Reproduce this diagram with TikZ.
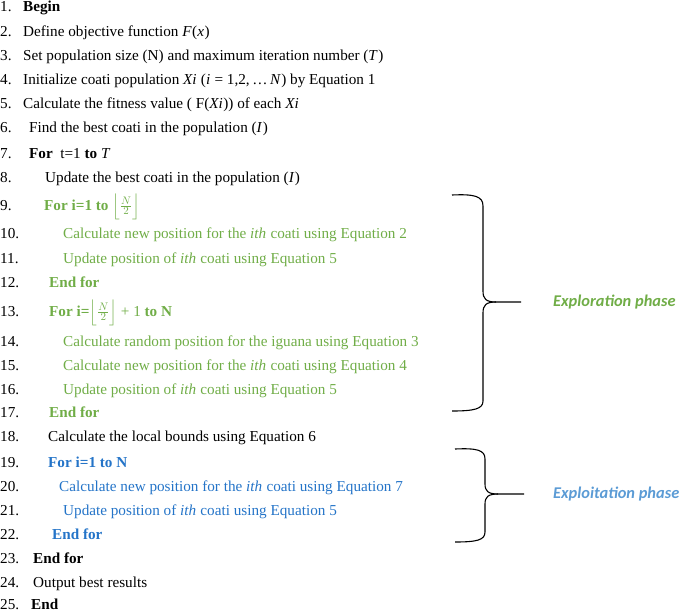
\documentclass[tikz,border=0pt]{standalone}
\usepackage{fontspec}
\usepackage{amsmath}
\setmainfont{Liberation Serif}
\newfontfamily\labelfont{Carlito}
\definecolor{cgreen}{RGB}{112,173,71}
\definecolor{cblue}{RGB}{36,116,200}
\definecolor{lblue}{RGB}{91,155,213}
\tikzset{
  line/.style={anchor=west,inner sep=0pt,text height=11pt,text depth=1pt,font=\fontsize{15.2}{18}\selectfont},
  num/.style={line},
  phaselabel/.style={anchor=west,inner sep=0pt,font=\labelfont\bfseries\itshape\fontsize{16.4}{19}\selectfont},
  bracepath/.style={draw=black,line width=1.1pt}
}
\newcommand{\mv}[1]{\textit{#1}\kern0.5pt\relax}
\newcommand{\flr}{$\Bigl\lfloor\frac{N}{2}\Bigr\rfloor$}
\begin{document}
\begin{tikzpicture}[x=1pt,y=-1pt]
\useasboundingbox (0,0) rectangle (685,611);
% numbers
\foreach \n/\y in {1/6,2/31,3/55,4/79,5/103,6/127,7/153,8/177,9/205,10/233,11/258,12/282,13/311,14/341,15/365,16/389,17/412,18/436,19/462,20/486,21/510,22/534,23/558,24/582,25/604}{
  \node[num] (n\n) at (0,\y) {\n.};
}
% lines
\node[line] (l1) at (23,6) {\textbf{Begin}};
\node[line] (l2) at (23,31) {Define objective function \mv{F}(\mv{x})};
\node[line] (l3) at (23,55) {Set population size (N) and maximum iteration number (\mv{T})};
\node[line] (l4) at (23,79) {Initialize coati population \mv{Xi} (\mv{i} = 1,2,\,…\,\mv{N}) by Equation 1};
\node[line] (l5) at (23,103) {Calculate the fitness value ( F(\mv{Xi})) of each \mv{Xi}};
\node[line] (l6) at (29,127) {Find the best coati in the population (\mv{I})};
\node[line] (l7) at (29,153) {\textbf{For}\ \ t=1 \textbf{to} \mv{T}};
\node[line] (l8) at (45,177) {Update the best coati in the population (\mv{I})};
\node[line,text=cgreen] (l9) at (44,205) {\textbf{For i=1 to} \flr};
\node[line,text=cgreen] (l10) at (63,233) {Calculate new position for the \mv{ith} coati using Equation 2};
\node[line,text=cgreen] (l11) at (63,258) {Update position of \mv{ith} coati using Equation 5};
\node[line,text=cgreen] (l12) at (49,282) {\textbf{End for}};
\node[line,text=cgreen] (l13) at (49,311) {\textbf{For i=}\flr\ + 1 \textbf{to N}};
\node[line,text=cgreen] (l14) at (63,341) {Calculate random position for the iguana using Equation 3};
\node[line,text=cgreen] (l15) at (63,365) {Calculate new position for the \mv{ith} coati using Equation 4};
\node[line,text=cgreen] (l16) at (63,389) {Update position of \mv{ith} coati using Equation 5};
\node[line,text=cgreen] (l17) at (49,412) {\textbf{End for}};
\node[line] (l18) at (48,436) {Calculate the local bounds using Equation 6};
\node[line,text=cblue] (l19) at (48,462) {\textbf{For i=1 to N}};
\node[line,text=cblue] (l20) at (59,486) {Calculate new position for the \mv{ith} coati using Equation 7};
\node[line,text=cblue] (l21) at (63,510) {Update position of \mv{ith} coati using Equation 5};
\node[line,text=cblue] (l22) at (52,534) {\textbf{End for}};
\node[line] (l23) at (33,558) {\textbf{End for}};
\node[line] (l24) at (33,582) {Output best results};
\node[line] (l25) at (31,604) {\textbf{End}};
% braces
\coordinate (e1top) at (452,195);
\coordinate (e1bot) at (452,411);
\coordinate (e1tip) at (521,302);
\coordinate (e2top) at (455,449);
\coordinate (e2bot) at (455,542);
\coordinate (e2tip) at (524,494);
\draw[bracepath] (e1top) .. controls (474,194) and (483,196) .. (483,206) -- (483,291)
  .. controls (483,299) and (486,302) .. (496,302) -- (e1tip);
\draw[bracepath] (496,302) .. controls (486,302) and (483,305) .. (483,313) -- (483,401)
  .. controls (483,409) and (474,411) .. (e1bot);
\draw[bracepath] (e2top) .. controls (477,448) and (485,450) .. (485,459) -- (485,484)
  .. controls (485,491) and (488,494) .. (498,494) -- (e2tip);
\draw[bracepath] (498,494) .. controls (488,494) and (485,497) .. (485,504) -- (485,532)
  .. controls (485,540) and (477,542) .. (e2bot);
\node[phaselabel,text=cgreen] (ph1) at (553,302) {Exploration phase};
\node[phaselabel,text=lblue] (ph2) at (553,494) {Exploitation phase};
\end{tikzpicture}
\end{document}
